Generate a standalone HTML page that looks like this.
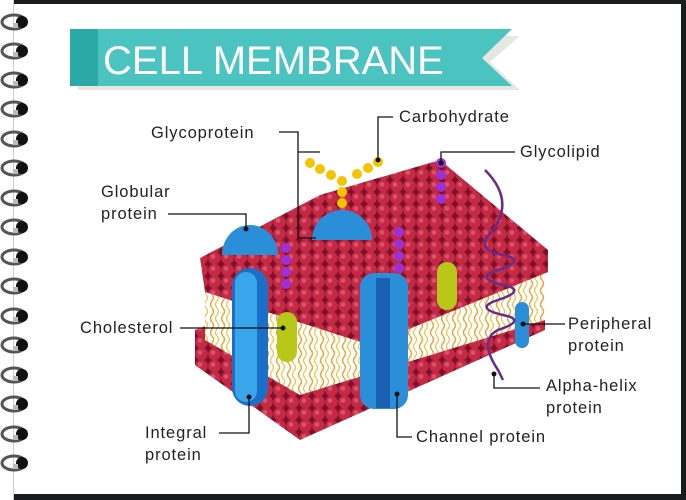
<!DOCTYPE html>
<html><head><meta charset="utf-8"><style>
html,body{margin:0;padding:0;background:#fff;}
svg{display:block}
text{font-family:"Liberation Sans",sans-serif;}
</style></head><body>
<svg width="686" height="500" viewBox="0 0 686 500" xmlns="http://www.w3.org/2000/svg">
<defs>
<pattern id="beads" x="0" y="0" width="13" height="12" patternUnits="userSpaceOnUse">
<rect width="13" height="12" fill="#7e1029"/>
<circle cx="6.5" cy="6" r="6.3" fill="#c52a45"/>
<circle cx="5" cy="4.5" r="2.3" fill="#d9536c"/>
</pattern>
<pattern id="tails" x="0" y="0" width="11" height="14" patternUnits="userSpaceOnUse">
<rect width="11" height="14" fill="#fff"/>
<path d="M3 0 q3 3.5 0 7 q-3 3.5 0 7" stroke="#f0a030" stroke-width="1.4" fill="none"/>
<path d="M8 0 q3 3.5 0 7 q-3 3.5 0 7" stroke="#f6c040" stroke-width="1.2" fill="none"/>
</pattern>
<g id="ring">
<ellipse cx="14" cy="0" rx="12" ry="7" fill="none" stroke="#555" stroke-width="3"/>
<ellipse cx="22" cy="0" rx="6" ry="6" fill="#111"/>
<rect x="13" y="1" width="5" height="5" fill="#bbb"/>
</g>
</defs>
<rect x="0" y="0" width="686" height="500" fill="#fff"/>
<rect x="13" y="0" width="673" height="4" fill="#1a1d1e"/>
<rect x="13" y="494" width="673" height="6" fill="#1a1d1e"/>
<rect x="681" y="0" width="5" height="500" fill="#1a1d1e"/>
<rect x="13" y="0" width="1" height="500" fill="#ccc"/>
<g>
<use href="#ring" y="22"/><use href="#ring" y="51"/><use href="#ring" y="80"/><use href="#ring" y="109"/>
<use href="#ring" y="139"/><use href="#ring" y="168"/><use href="#ring" y="198"/><use href="#ring" y="227"/>
<use href="#ring" y="257"/><use href="#ring" y="286"/><use href="#ring" y="316"/><use href="#ring" y="345"/>
<use href="#ring" y="375"/><use href="#ring" y="404"/><use href="#ring" y="434"/><use href="#ring" y="463"/>
</g>
<!-- banner -->
<polygon points="78,36 520,36 490,62 520,90 78,90" fill="#e6e6e2"/>
<polygon points="70,29 512,29 482,58 512,86 70,86" fill="#4ac3c1"/>
<rect x="70" y="29" width="28" height="57" fill="#2aa9a5"/>
<text x="103" y="74" font-size="40" fill="#fff">CELL MEMBRANE</text>
<!-- membrane -->
<polygon points="195,330 300,290 545,295 545,330 300,440 195,365" fill="url(#beads)"/>
<polygon points="205,285 545,260 545,320 300,395 205,340" fill="url(#tails)"/>
<polygon points="200,258 320,195 440,160 548,250 548,272 370,345 205,292" fill="url(#beads)"/>
<!-- glycolipid purple chains -->
<g fill="#9b30d8"><circle cx="441" cy="163" r="5"/><circle cx="441" cy="175" r="5"/><circle cx="441" cy="187" r="5"/><circle cx="441" cy="199" r="5"/>
<circle cx="399" cy="232" r="5"/><circle cx="399" cy="244" r="5"/><circle cx="399" cy="256" r="5"/><circle cx="399" cy="268" r="5"/>
<circle cx="286" cy="248" r="5"/><circle cx="286" cy="260" r="5"/><circle cx="286" cy="272" r="5"/><circle cx="286" cy="284" r="5"/></g>
<!-- globular proteins -->
<path d="M222 255 a28 30 0 0 1 56 0 z" fill="#2a8fd8"/>
<path d="M312 240 a30 30 0 0 1 60 0 z" fill="#2a8fd8"/>
<!-- carbohydrate -->
<g fill="#f5c400"><circle cx="310" cy="163" r="5"/><circle cx="320" cy="169" r="5"/><circle cx="331" cy="175" r="5"/><circle cx="342" cy="181" r="5"/>
<circle cx="378" cy="162" r="5"/><circle cx="368" cy="168" r="5"/><circle cx="357" cy="174" r="5"/>
<circle cx="342" cy="192" r="5"/><circle cx="342" cy="203" r="5"/></g>
<!-- integral protein -->
<rect x="232" y="268" width="36" height="138" rx="18" fill="#1a70c8"/>
<rect x="235" y="272" width="22" height="130" rx="11" fill="#3aa6ea"/>
<!-- channel -->
<rect x="360" y="273" width="48" height="136" rx="14" fill="#2a8fd8"/>
<rect x="376" y="278" width="14" height="130" fill="#1a5fb0"/>
<!-- cholesterol -->
<rect x="277" y="312" width="20" height="50" rx="10" fill="#b8c818"/>
<rect x="437" y="262" width="20" height="48" rx="10" fill="#b8c818"/>
<!-- peripheral -->
<rect x="515" y="302" width="14" height="46" rx="7" fill="#2a8fd8"/>
<!-- alpha helix -->
<path d="M485 170 q30 30 8 60 q-20 20 10 25 q25 5 -5 15 q-25 8 5 15 q25 5 -5 15 q-25 8 5 15 q25 5 -5 15 q-20 10 0 40 l5 10" stroke="#6a2a8a" stroke-width="2.5" fill="none"/>
<!-- leader lines -->
<g stroke="#111" stroke-width="1.3" fill="none">
<polyline points="279,132 298,132 298,238 316,238"/>
<polyline points="298,152 320,152"/>
<polyline points="393,117 378,117 378,160"/>
<polyline points="515,152 441,152 441,161"/>
<polyline points="168,214 246,214 246,229"/>
<polyline points="180,328 283,328"/>
<polyline points="565,324 523,324"/>
<polyline points="540,388 494,388 494,374"/>
<polyline points="219,433 249,433 249,397"/>
<polyline points="412,437 397,437 397,394"/>
</g>
<g fill="#111"><circle cx="378" cy="160" r="2.5"/><circle cx="441" cy="163" r="2.5"/><circle cx="246" cy="229" r="2.5"/><circle cx="283" cy="328" r="2.5"/><circle cx="523" cy="324" r="2.5"/><circle cx="494" cy="374" r="2.5"/><circle cx="249" cy="397" r="2.5"/><circle cx="397" cy="394" r="2.5"/></g>
<g font-size="16.5" fill="#222" letter-spacing="0.9">
<text x="151" y="138">Glycoprotein</text>
<text x="399" y="122">Carbohydrate</text>
<text x="520" y="157">Glycolipid</text>
<text x="101" y="197">Globular</text>
<text x="101" y="219">protein</text>
<text x="80" y="333">Cholesterol</text>
<text x="568" y="329">Peripheral</text>
<text x="568" y="351">protein</text>
<text x="546" y="391">Alpha-helix</text>
<text x="546" y="413">protein</text>
<text x="145" y="438">Integral</text>
<text x="145" y="460">protein</text>
<text x="416" y="442">Channel protein</text>
</g>
</svg>
</body></html>
